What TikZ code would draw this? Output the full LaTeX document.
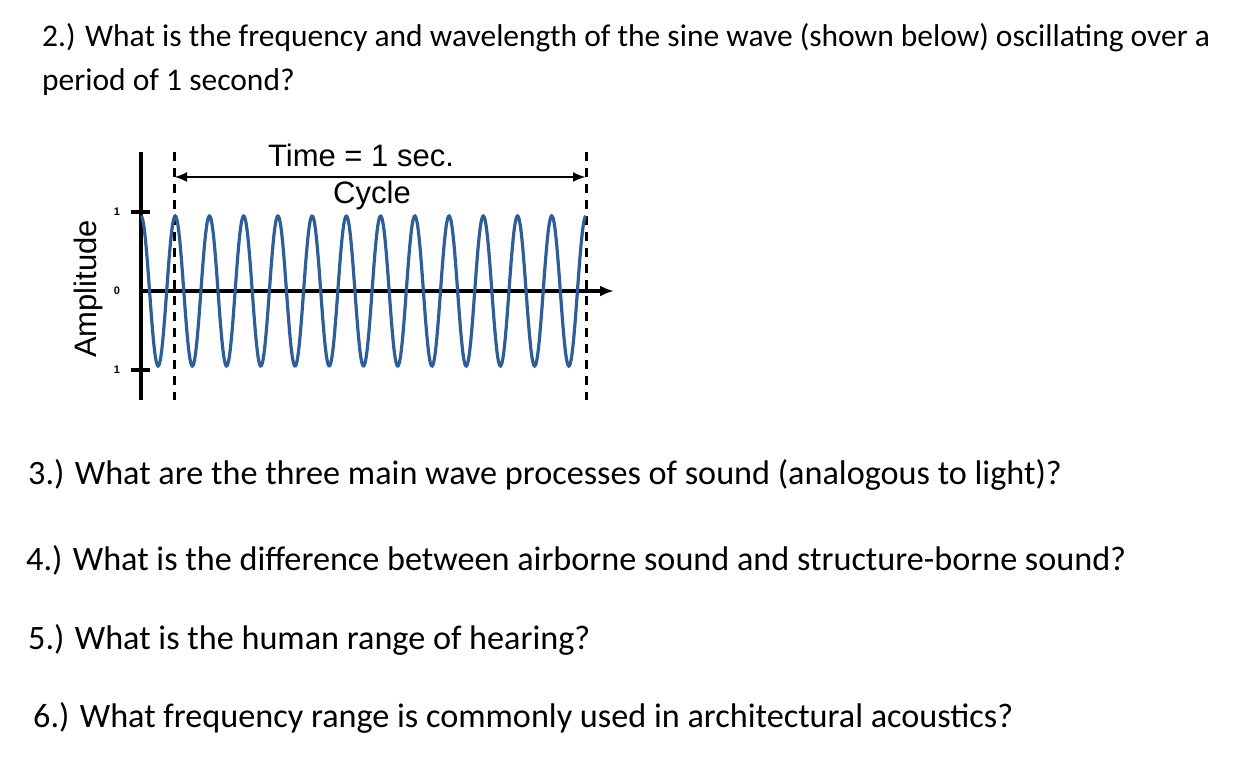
\documentclass[tikz,border=0pt]{standalone}
\usepackage{fontspec}
\setmainfont{Carlito}
\newfontfamily\arialf{Liberation Sans}
\usetikzlibrary{arrows.meta}
\begin{document}
\begin{tikzpicture}[x=1pt,y=-1pt,
  q/.style={anchor=west,inner sep=0pt,font=\fontsize{31.5}{34}\selectfont},
  qb/.style={anchor=west,inner sep=0pt,font=\fontsize{34.2}{37}\selectfont},
  lab/.style={inner sep=0pt,font=\arialf\fontsize{31}{34}\selectfont},
  tk/.style={inner sep=0pt,font=\arialf\bfseries\fontsize{11}{12}\selectfont},
  ax/.style={line width=3.2pt},
  dsh/.style={line width=3pt,dash pattern=on 9pt off 7pt}]
\useasboundingbox (0,0) rectangle (1233,765);
\node[q] (q2a) at (42,38) {2.) What is the frequency and wavelength of the sine wave (shown below) oscillating over a};
\node[q] (q2b) at (42,82) {period of 1 second?};
\node[qb] (q3) at (28,475) {3.) What are the three main wave processes of sound (analogous to light)?};
\node[qb] (q4) at (26,560) {4.) What is the difference between airborne sound and structure-borne sound?};
\node[qb] (q5) at (28,640) {5.) What is the human range of hearing?};
\node[qb] (q6) at (33,718) {6.) What frequency range is commonly used in architectural acoustics?};
% axes
\coordinate (yt) at (141,152); \coordinate (yb) at (141,400);
\coordinate (x0) at (141,291); \coordinate (xe) at (614,291);
\draw[ax] (yt) -- (yb);
\draw[ax,-{Latex[length=14pt,width=11pt]}] (x0) -- (xe);
\draw[ax] (131,212) -- (150,212);
\draw[ax] (131,370) -- (150,370);
\node[tk] (t1) at (117,212) {1};
\node[tk] (t0) at (117,291) {0};
\node[tk] (tm) at (117,370) {1};
\node[lab,rotate=90] (amp) at (88,289) {Amplitude};
% dashed
\coordinate (dl1) at (174,152); \coordinate (dl2) at (174,400);
\coordinate (dr1) at (586,152); \coordinate (dr2) at (586,400);
\draw[dsh] (dl1) -- (dl2);
\draw[dsh] (dr1) -- (dr2);
\coordinate (al) at (174,177); \coordinate (ar) at (586,177);
\draw[line width=2.6pt,{Latex[length=13pt,width=10pt]}-{Latex[length=13pt,width=10pt]}] (al) -- (ar);
\node[lab] (time) at (361,155) {Time = 1 sec.};
\node[lab] (cyc) at (372,195) {Cycle};
% wave
\draw[color={rgb,255:red,46;green,94;blue,152},line width=3.2pt,smooth,samples=600,domain=0:13]
  plot ({141+\x*34.23},{291-75*cos(360*\x)});
\end{tikzpicture}
\end{document}
